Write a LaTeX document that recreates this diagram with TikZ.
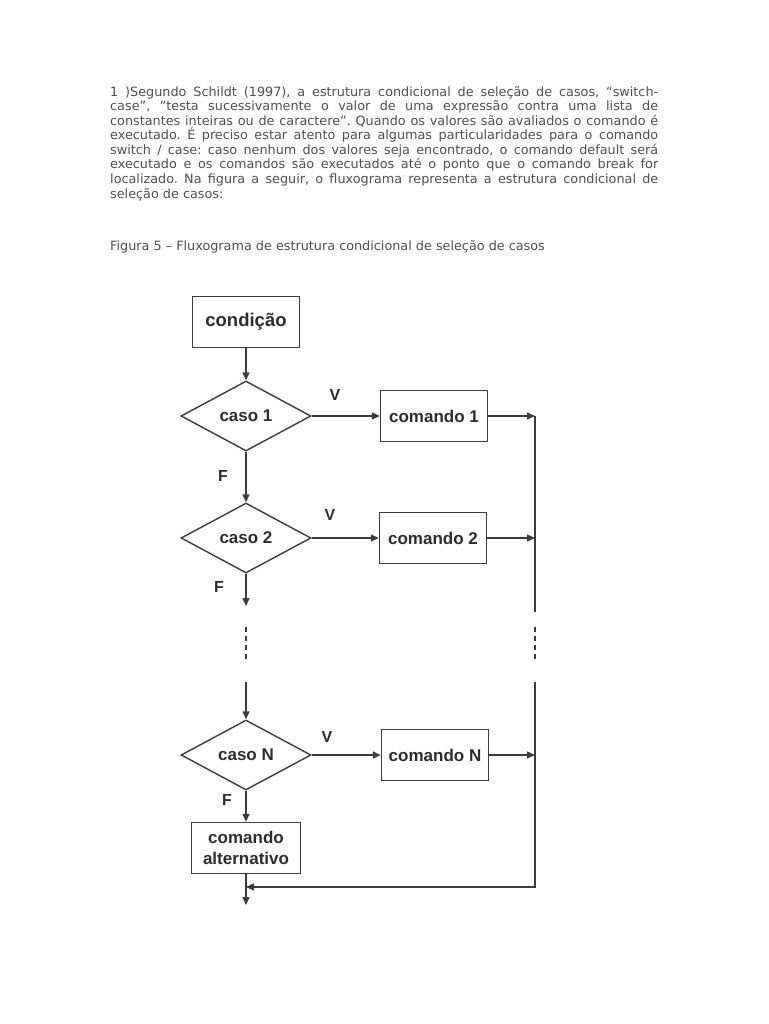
\documentclass[tikz,border=0pt]{standalone}
\usepackage{fontspec}
\setmainfont{DejaVu Sans}
\newfontfamily\diagfont{Liberation Sans}
\usetikzlibrary{shapes.geometric,arrows.meta}
\definecolor{txt}{RGB}{80,80,80}
\definecolor{ln}{RGB}{60,60,60}
\definecolor{lbl}{RGB}{45,45,45}
\newcommand\jl[1]{\hbox to 548pt{#1}}
\begin{document}
\begin{tikzpicture}[x=1pt,y=-1pt,
  box/.style={draw=ln, line width=1.4pt, fill=white, minimum width=107pt, minimum height=51pt, inner sep=2pt, font=\diagfont\bfseries\fontsize{17}{22}\selectfont, text=lbl, align=center},
  dia/.style={draw=ln, line width=1.4pt, fill=white, diamond, aspect=1.857, minimum width=130pt, minimum height=70pt, inner sep=0pt, font=\diagfont\bfseries\fontsize{17}{22}\selectfont, text=lbl},
  conn/.style={draw=ln, line width=1.4pt},
  arr/.style={conn, -{Triangle[length=8pt,width=7pt]}},
  dsh/.style={conn, dash pattern=on 5pt off 4pt},
  tf/.style={font=\diagfont\bfseries\fontsize{16}{16}\selectfont, text=lbl, inner sep=0pt}
]
\fill[white] (0,0) rectangle (768,1024);

\node[anchor=north west, inner sep=0pt, text=txt, font=\fontsize{12.8}{14.57}\selectfont\frenchspacing] (para) at (110,86) {\vbox{\hsize=548pt \baselineskip=14.57pt
\jl{1 )Segundo Schildt (1997), a estrutura condicional de seleção de casos, “switch-}
\jl{case”, “testa sucessivamente o valor de uma expressão contra uma lista de}
\jl{constantes inteiras ou de caractere”. Quando os valores são avaliados o comando é}
\jl{executado. É preciso estar atento para algumas particularidades para o comando}
\jl{switch / case: caso nenhum dos valores seja encontrado, o comando default será}
\jl{executado e os comandos são executados até o ponto que o comando break for}
\jl{localizado. Na figura a seguir, o fluxograma representa a estrutura condicional de}
\hbox{seleção de casos:}}};

\node[anchor=base west, inner sep=0pt, text=txt, font=\fontsize{12.8}{14.57}\selectfont] (cap) at (110,250) {Figura 5 – Fluxograma de estrutura condicional de seleção de casos};

% nodes
\node[box, font=\diagfont\bfseries\fontsize{18.5}{22}\selectfont] (cond) at (246,322) {condição};
\node[dia] (c1) at (246,416) {caso 1};
\node[box] (k1) at (434,416) {comando 1};
\node[dia] (c2) at (246,538) {caso 2};
\node[box] (k2) at (433,538) {comando 2};
\node[dia] (cN) at (246,755) {caso N};
\node[box] (kN) at (435,755) {comando N};
\node[box, minimum width=109pt, font=\diagfont\bfseries\fontsize{17}{21}\selectfont] (alt) at (246,848) {comando\\alternativo};

% coordinates
\coordinate (r1) at (535,416);
\coordinate (r2) at (535,538);
\coordinate (rN) at (535,755);
\coordinate (rtop2) at (535,612);
\coordinate (rd1) at (535,627);
\coordinate (rd2) at (535,662);
\coordinate (rb) at (535,682);
\coordinate (rbot) at (535,887);
\coordinate (lj) at (246,887);
\coordinate (d0) at (246,606);
\coordinate (ld1) at (246,627);
\coordinate (ld2) at (246,662);
\coordinate (lb) at (246,682);
\coordinate (endp) at (246,905);

% connectors
\draw[arr] (cond) -- (c1);
\draw[arr] (c1) -- (k1);
\draw[arr] (k1) -- (r1);
\draw[arr] (c1) -- (c2);
\draw[arr] (c2) -- (k2);
\draw[arr] (k2) -- (r2);
\draw[arr] (c2) -- (d0);
\draw[dsh] (ld1) -- (ld2);
\draw[dsh] (rd1) -- (rd2);
\draw[conn] (r1) -- (rtop2);
\draw[arr] (lb) -- (cN);
\draw[arr] (cN) -- (kN);
\draw[arr] (kN) -- (rN);
\draw[arr] (cN) -- (alt);
\draw[arr] (rb) -- (rbot) -- (lj);
\draw[arr] (alt) -- (endp);

% labels
\node[tf] (v1) at (335,395) {V};
\node[tf] (v2) at (330,515) {V};
\node[tf] (v3) at (327,737) {V};
\node[tf] (f1) at (223,476) {F};
\node[tf] (f2) at (219,587) {F};
\node[tf] (f3) at (227,800) {F};
\end{tikzpicture}
\end{document}
